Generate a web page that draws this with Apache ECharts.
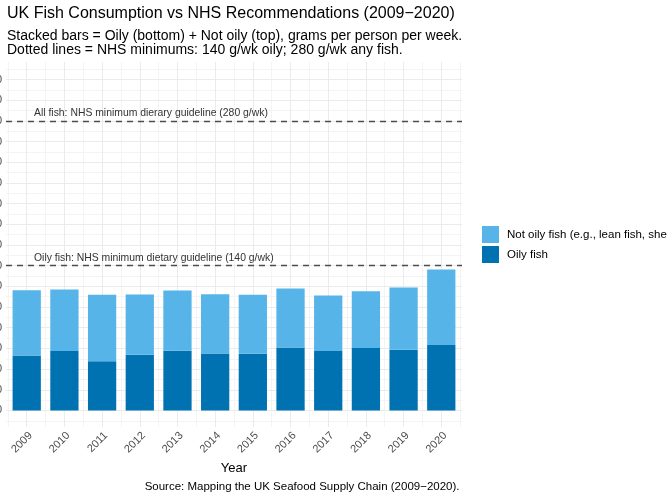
<!DOCTYPE html>
<html>
<head>
<meta charset="utf-8">
<script src="https://cdn.jsdelivr.net/npm/echarts@6/dist/echarts.min.js"></script>
<style>html,body{margin:0;padding:0;background:#fff;}#c{width:667px;height:500px;}</style>
</head>
<body>
<div id="c"></div>
<script>
// ---- data ----
var years = ['2009','2010','2011','2012','2013','2014','2015','2016','2017','2018','2019','2020'];
var oily = [53.2, 57.4, 47.7, 53.8, 57.7, 55.1, 54.8, 60.9, 57.4, 60.3, 58.7, 63.2];
var notOily = [63.1, 59.6, 64.2, 58.4, 58.3, 57.4, 57.1, 57.1, 53.8, 55.1, 60.3, 73.2];
var guideOily = 140;
var guideAll = 280;
var yTickLabels = [0,20,40,60,80,100,120,140,160,180,200,220,240,260,280,300,320];
var yMinorGrid = [-10,10,30,50,70,90,110,130,150,170,190,210,230,250,270,290,310,330];
var seriesNames = ['Not oily fish (e.g., lean fish, shellfish)', 'Oily fish'];

// positions of categories on the continuous panel scale (1..n)
var xPos = years.map(function (y, i) { return i + 1; });
var xMinorGrid = [0.5].concat(xPos.map(function (p) { return p + 0.5; }));

var FONT = 'Liberation Sans, Arial, Helvetica, sans-serif';
var Y_MIN = -16, Y_MAX = 337;
var X_MIN = 0.45, X_MAX = 12.55;
var PANEL = {left: 6, right: 205, top: 62, bottom: 73};
var unitPx = (667 - PANEL.left - PANEL.right) / (X_MAX - X_MIN);
var pad = (0.5 - X_MIN) * unitPx;

var chart = echarts.init(document.getElementById('c'), null, {renderer: 'canvas'});

var majorGridStyle = {color: '#EBEBEB', width: 1, type: 'solid'};
var minorGridStyle = {color: '#F4F4F4', width: 1, type: 'solid'};

var gridLines = []
  .concat(yMinorGrid.map(function (v) { return {yAxis: v, lineStyle: minorGridStyle}; }))
  .concat(xMinorGrid.map(function (v) { return {xAxis: v, lineStyle: minorGridStyle}; }))
  .concat(yTickLabels.map(function (v) { return {yAxis: v, lineStyle: majorGridStyle}; }))
  .concat(xPos.map(function (v) { return {xAxis: v, lineStyle: majorGridStyle}; }));

var option = {
  animation: false,
  backgroundColor: '#ffffff',
  textStyle: {fontFamily: FONT},
  title: [
    {text: 'UK Fish Consumption vs NHS Recommendations (2009\u22122020)', left: 7, top: 6, padding: 0,
     textStyle: {fontFamily: FONT, fontSize: 16, fontWeight: 'normal', color: '#000'}},
    {text: 'Stacked bars = Oily (bottom) + Not oily (top), grams per person per week.\nDotted lines = NHS minimums: 140 g/wk oily; 280 g/wk any fish.',
     left: 7, top: 29, padding: 0,
     textStyle: {fontFamily: FONT, fontSize: 14, fontWeight: 'normal', color: '#000', lineHeight: 14}},
    {text: 'Source: Mapping the UK Seafood Supply Chain (2009\u22122020).', right: 207.5, top: 481, padding: 0,
     textStyle: {fontFamily: FONT, fontSize: 11.5, fontWeight: 'normal', color: '#000'}}
  ],
  legend: {
    data: seriesNames,
    orient: 'vertical',
    left: 482, top: 226, padding: 0,
    itemWidth: 17, itemHeight: 17, itemGap: 3,
    icon: 'rect',
    textStyle: {fontFamily: FONT, fontSize: 11.5, color: '#000', padding: [0,0,0,3]},
    selectedMode: false
  },
  grid: [
    {left: PANEL.left, right: PANEL.right, top: PANEL.top, bottom: PANEL.bottom,
     containLabel: false, outerBoundsMode: 'none'},
    {left: PANEL.left + pad, right: PANEL.right + pad, top: PANEL.top, bottom: PANEL.bottom,
     containLabel: false, outerBoundsMode: 'none'}
  ],
  xAxis: [
    {
      gridIndex: 0, type: 'value', min: X_MIN, max: X_MAX,
      name: 'Year', nameLocation: 'middle', nameGap: 35,
      nameTextStyle: {fontFamily: FONT, fontSize: 13, color: '#000'},
      axisLine: {show: false}, axisTick: {show: false}, splitLine: {show: false},
      axisLabel: {
        customValues: xPos, rotate: 45, margin: 3,
        align: 'right', verticalAlign: 'top',
        fontFamily: FONT, fontSize: 11, color: '#4D4D4D',
        formatter: function (v) { return years[Math.round(v) - 1] || ''; }
      }
    },
    {
      gridIndex: 1, type: 'category', data: years, boundaryGap: true, show: false
    }
  ],
  yAxis: [
    {
      gridIndex: 0, type: 'value', min: Y_MIN, max: Y_MAX,
      axisLine: {show: false}, axisTick: {show: false}, splitLine: {show: false},
      axisLabel: {
        customValues: yTickLabels, margin: 4,
        fontFamily: FONT, fontSize: 11, color: '#4D4D4D'
      }
    },
    {
      gridIndex: 1, type: 'value', min: Y_MIN, max: Y_MAX, show: false, splitLine: {show: false}
    }
  ],
  series: [
    {
      name: 'grid', type: 'line', xAxisIndex: 0, yAxisIndex: 0, data: [], z: 0, silent: true,
      markLine: {silent: true, z: 0, symbol: ['none','none'], label: {show: false}, animation: false, data: gridLines}
    },
    {
      name: seriesNames[1], type: 'bar', xAxisIndex: 1, yAxisIndex: 1, stack: 'fish', barWidth: '75%', z: 2,
      itemStyle: {color: '#0072B2'},
      data: oily
    },
    {
      name: seriesNames[0], type: 'bar', xAxisIndex: 1, yAxisIndex: 1, stack: 'fish', barWidth: '75%', z: 2,
      itemStyle: {color: '#56B4E9'},
      data: notOily
    },
    {
      name: 'guides', type: 'line', xAxisIndex: 0, yAxisIndex: 0, data: [], z: 3, silent: true,
      markLine: {
        silent: true, symbol: ['none','none'], animation: false, z: 6,
        lineStyle: {color: '#4D4D4D', width: 1.3, type: [6, 5]},
        label: {show: true, position: 'insideStartTop', distance: [28, 3],
                fontFamily: FONT, fontSize: 10.4, color: '#333'},
        data: [
          {yAxis: guideAll, label: {formatter: 'All fish: NHS minimum dierary guideline (280 g/wk)'}},
          {yAxis: guideOily, label: {formatter: 'Oily fish: NHS minimum dietary guideline (140 g/wk)'}}
        ]
      }
    }
  ]
};
chart.setOption(option);
</script>
</body>
</html>
